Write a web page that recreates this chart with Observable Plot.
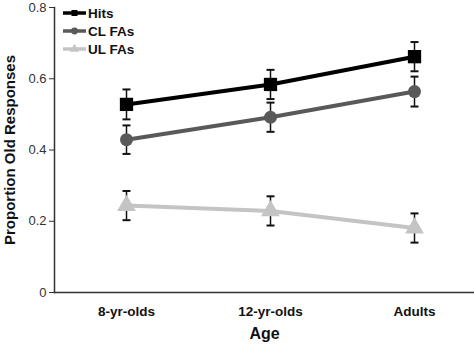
<!DOCTYPE html>
<html><head><meta charset="utf-8">
<script src="https://cdn.jsdelivr.net/npm/d3@7"></script>
<script src="https://cdn.jsdelivr.net/npm/@observablehq/plot@0.6"></script>
<style>
body{margin:0;background:#fff;font-family:"Liberation Sans",Arial,sans-serif;}
#wrap{position:relative;width:474px;height:346px;}
#legend{position:absolute;left:0;top:0;}
</style>
</head><body><div id="wrap"></div>
<script>
const ages = ["8-yr-olds", "12-yr-olds", "Adults"];
const seriesNames = ["Hits", "CL FAs", "UL FAs"];
const hits = [0.528, 0.584, 0.662];
const hitsErr = [0.042, 0.041, 0.041];
const clFAs = [0.429, 0.492, 0.564];
const clErr = [0.040, 0.041, 0.042];
const ulFAs = [0.244, 0.229, 0.181];
const ulErr = [0.041, 0.041, 0.041];
const yTicks = [0, 0.2, 0.4, 0.6, 0.8];

const colors = {"Hits": "#000000", "CL FAs": "#595959", "UL FAs": "#c4c4c4"};
const symbols = {"Hits": "square", "CL FAs": "circle", "UL FAs": "triangle"};
const radii = {"Hits": 7.5, "CL FAs": 6.5, "UL FAs": 7};
const capSymbol = {draw(ctx) { ctx.moveTo(-4, 0); ctx.lineTo(4, 0); }};

const vals = [hits, clFAs, ulFAs];
const errs = [hitsErr, clErr, ulErr];
const rows = [];
seriesNames.forEach((s, i) => ages.forEach((a, j) => rows.push({series: s, age: a, v: vals[i][j], e: errs[i][j]})));

const marks = [
  Plot.frame({anchor: "left", stroke: "#333", strokeWidth: 1.5}),
  Plot.frame({anchor: "bottom", stroke: "#333", strokeWidth: 1.5}),
  Plot.axisY({ticks: yTicks, tickFormat: d => d === 0 ? "0" : d.toFixed(1), tickSize: 5, tickPadding: 3, label: null, fontSize: 13, color: "#333", stroke: "#333"}),
  Plot.axisX({tickSize: 0, tickPadding: 14, label: null, fontSize: 13.5, fontWeight: "bold", color: "#111"}),
  Plot.text(["Proportion Old Responses"], {frameAnchor: "left", textAnchor: "middle", dx: -44, rotate: -90, fontSize: 15, fontWeight: "bold", fill: "#111"}),
  Plot.text(["Age"], {frameAnchor: "bottom", dy: 46, fontSize: 16, fontWeight: "bold", fill: "#111"})
];
seriesNames.forEach(s => {
  const d = rows.filter(r => r.series === s);
  marks.push(
    Plot.ruleX(d, {x: "age", y1: r => r.v - r.e, y2: r => r.v + r.e, stroke: "#111", strokeWidth: 1.5}),
    Plot.dot(d, {x: "age", y: r => r.v - r.e, symbol: capSymbol, r: 4, fill: "none", stroke: "#111", strokeWidth: 2}),
    Plot.dot(d, {x: "age", y: r => r.v + r.e, symbol: capSymbol, r: 4, fill: "none", stroke: "#111", strokeWidth: 2}),
    Plot.line(d, {x: "age", y: "v", stroke: colors[s], strokeWidth: 4}),
    Plot.dot(d, {x: "age", y: "v", symbol: symbols[s], r: radii[s], fill: colors[s], stroke: "none"})
  );
});

const chart = Plot.plot({
  width: 474, height: 346,
  marginLeft: 54, marginRight: 0, marginTop: 7, marginBottom: 54,
  style: {fontFamily: "Liberation Sans, Arial, sans-serif", background: "#fff"},
  x: {type: "point", domain: ages, range: [126, 414], padding: 0},
  y: {domain: [0, 0.8]},
  marks
});
document.getElementById("wrap").appendChild(chart);

// legend (top-left, inside plot)
const ns = "http://www.w3.org/2000/svg";
const leg = document.createElementNS(ns, "svg");
leg.setAttribute("id", "legend");
leg.setAttribute("width", 160); leg.setAttribute("height", 60);
leg.style.left = "60px";
const sym = {"Hits": d3.symbolSquare, "CL FAs": d3.symbolCircle, "UL FAs": d3.symbolTriangle};
seriesNames.forEach((s, i) => {
  const y = 13 + i * 18;
  const g = d3.select(leg).append("g");
  g.append("line").attr("x1", 3).attr("x2", 26).attr("y1", y).attr("y2", y).attr("stroke", colors[s]).attr("stroke-width", 3.5);
  g.append("path").attr("d", d3.symbol(sym[s], 36)()).attr("transform", `translate(14.5,${y})`).attr("fill", colors[s]);
  g.append("text").attr("x", 28).attr("y", y).attr("dy", "0.35em").attr("font-size", 13.5).attr("font-weight", "bold").attr("fill", "#111").attr("font-family", "Liberation Sans, Arial, sans-serif").text(s);
});
document.getElementById("wrap").appendChild(leg);
</script></body></html>
